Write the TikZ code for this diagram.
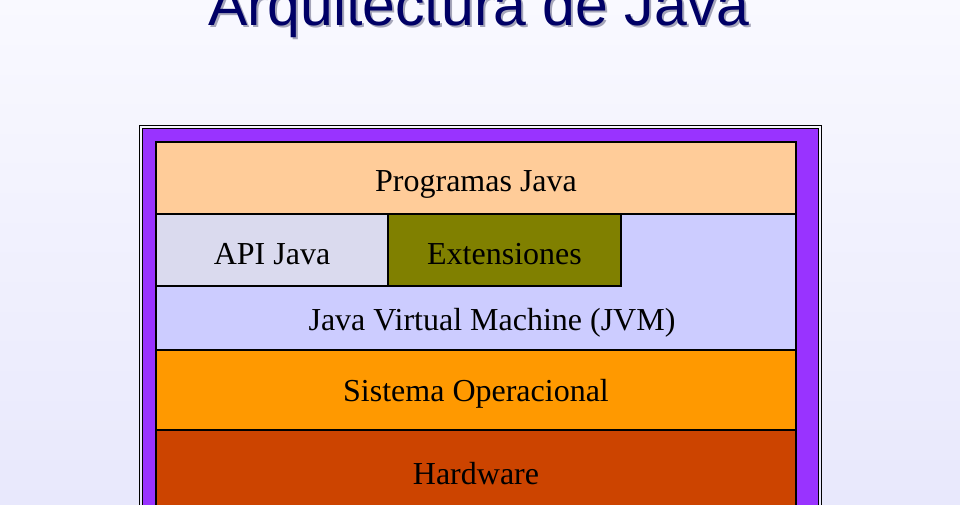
\documentclass[tikz,border=0pt]{standalone}
\usepackage{fontspec}
\setmainfont{Liberation Serif}
\newfontfamily\titlefont{Liberation Sans}
\definecolor{bgtop}{RGB}{249,249,255}
\definecolor{bgbot}{RGB}{232,232,252}
\definecolor{framepurple}{RGB}{153,51,255}
\definecolor{peach}{RGB}{255,204,153}
\definecolor{apigray}{RGB}{218,218,238}
\definecolor{jvmblue}{RGB}{204,204,255}
\definecolor{olivebox}{RGB}{128,128,0}
\definecolor{osorange}{RGB}{255,153,0}
\definecolor{hwred}{RGB}{204,68,0}
\definecolor{titleblue}{RGB}{0,0,102}
\definecolor{titleshadow}{RGB}{165,165,185}
\tikzset{
  layer/.style={draw=black, line width=1.2pt, inner sep=0pt, outer sep=0pt, anchor=north west},
  lbl/.style={inner sep=0pt, font=\fontsize{32}{32}\selectfont, text=black},
  ttl/.style={inner sep=0pt, font=\titlefont\fontsize{59}{59}\selectfont, anchor=base}
}
\begin{document}
\begin{tikzpicture}[x=1pt,y=-1pt]
\useasboundingbox (0,0) rectangle (960,504);
\clip (0,0) rectangle (960,504);
\shade[top color=bgtop, bottom color=bgbot] (0,0) rectangle (960,504);
% title
\node[ttl, text=titleshadow] (titleshadow) at (481,27) {Arquitectura de Java};
\node[ttl, text=titleblue] (title) at (479,25) {Arquitectura de Java};
% frame
\node[draw=black, line width=1pt, inner sep=0pt, anchor=north west, minimum width=682pt, minimum height=420pt] (outerframe) at (139,124.5) {};
\node[draw=black, fill=framepurple, line width=1pt, inner sep=0pt, anchor=north west, minimum width=676pt, minimum height=420pt] (innerframe) at (142,127.5) {};
% layers
\node[layer, fill=peach, minimum width=640pt, minimum height=72pt] (prog) at (156,142) {};
\node[lbl] (progtext) at (476,184) {Programas Java};
\node[layer, fill=jvmblue, minimum width=640pt, minimum height=136pt] (jvm) at (156,214) {};
\node[lbl] (jvmtext) at (492,323) {Java Virtual Machine (JVM)};
\node[layer, fill=apigray, minimum width=232pt, minimum height=72pt] (api) at (156,214) {};
\node[lbl] (apitext) at (272,254) {API Java};
\node[layer, fill=olivebox, minimum width=233pt, minimum height=72pt] (ext) at (388,214) {};
\node[lbl] (exttext) at (504.5,254) {Extensiones};
\node[layer, fill=osorange, minimum width=640pt, minimum height=80pt] (os) at (156,350) {};
\node[lbl] (ostext) at (476,394) {Sistema Operacional};
\node[layer, fill=hwred, minimum width=640pt, minimum height=100pt] (hw) at (156,430) {};
\node[lbl] (hwtext) at (476,474) {Hardware};
\end{tikzpicture}
\end{document}
